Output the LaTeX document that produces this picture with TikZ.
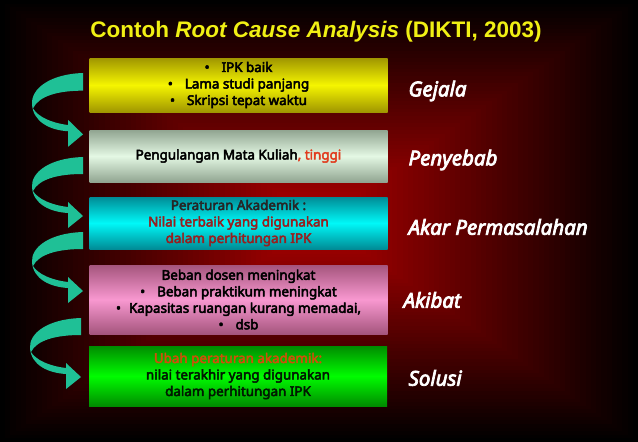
\documentclass[tikz,border=0pt]{standalone}
\usepackage{fontspec}
\setmainfont{Noto Sans}[FakeBold=3.6]
\newfontfamily\titlefont{Liberation Sans}
\definecolor{arrowteal}{RGB}{31,192,150}
\definecolor{titleyellow}{RGB}{240,240,20}
\definecolor{darkred}{RGB}{150,32,32}
\definecolor{tinggired}{RGB}{225,60,30}
\definecolor{ubahorange}{RGB}{205,80,10}
\begin{document}
\begin{tikzpicture}[x=1pt,y=-1pt]
\tikzset{
  box/.style={minimum width=298pt, inner sep=0pt, align=center,
    font=\fontsize{13.4}{16.5}\selectfont, text=black},
  lbl/.style={anchor=west, text=white, font=\itshape\fontsize{20.5}{24}\selectfont},
  curvearrow/.pic={
    \fill[arrowteal] (0,0) .. controls (-33,1) and (-52,15) .. (-51,30)
      .. controls (-50,47) and (-33,55) .. (-15,56) -- (-15,71) -- (0,59) -- (-15,45) -- (-15,50)
      .. controls (-32,48) and (-45,42) .. (-50,34)
      .. controls (-44,22) and (-25,17) .. (0,17) -- cycle;
  }
}
\useasboundingbox (0,0) rectangle (638,442);
% background: rectangular gradient
\fill[black] (0,0) rectangle (638,442);
\foreach \i in {1,...,60}{
  \pgfmathsetmacro{\t}{1-\i/61}
  \pgfmathsetmacro{\p}{68*\i/60}
  \fill[red!\p!black] ({319-319*\t},{221-221*\t}) rectangle ({319+319*\t},{221+221*\t});
}
% title
\node[text=titleyellow, font=\titlefont\bfseries\fontsize{22.5}{26}\selectfont] (title) at (316,32)
  {Contoh \textit{Root Cause Analysis} (DIKTI, 2003)};
% boxes
\node[box, top color={rgb,255:red,160;green,150;blue,0}, bottom color={rgb,255:red,160;green,150;blue,0}, middle color={rgb,255:red,245;green,245;blue,0}, minimum height=54pt] (gejala) at (238.5,85)
  {\textbullet\hspace{12pt}IPK baik\\ \textbullet\hspace{12pt}Lama studi panjang\\ \textbullet\hspace{12pt}Skripsi tepat waktu};
\node[box, top color={rgb,255:red,145;green,165;blue,145}, bottom color={rgb,255:red,145;green,165;blue,145}, middle color={rgb,255:red,228;green,248;blue,228}, minimum height=52pt] (penyebab) at (238.5,156)
  {Pengulangan Mata Kuliah\textcolor{tinggired}{, tinggi}};
\node[box, top color={rgb,255:red,0;green,140;blue,150}, bottom color={rgb,255:red,0;green,140;blue,150}, middle color={rgb,255:red,0;green,248;blue,248}, minimum height=52pt] (akar) at (238.5,223)
  {\textcolor{black!85}{Peraturan Akademik :}\\ \textcolor{darkred}{Nilai terbaik yang digunakan}\\ \textcolor{darkred}{dalam perhitungan IPK}};
\node[box, top color={rgb,255:red,165;green,85;blue,125}, bottom color={rgb,255:red,165;green,85;blue,125}, middle color={rgb,255:red,248;green,152;blue,208}, minimum height=69pt] (akibat) at (238.5,299.5)
  {Beban dosen meningkat\\ \textbullet\hspace{12pt}Beban praktikum meningkat\\ \textbullet\hspace{8pt}Kapasitas ruangan kurang memadai,\\ \textbullet\hspace{12pt}dsb};
\node[box, top color={rgb,255:red,0;green,140;blue,0}, bottom color={rgb,255:red,0;green,140;blue,0}, middle color={rgb,255:red,0;green,252;blue,0}, minimum height=60pt] (solusi) at (238,376)
  {\textcolor{ubahorange}{Ubah peraturan akademik:}\\ \textcolor{black!90!green}{nilai terakhir yang digunakan}\\ \textcolor{black!90!green}{dalam perhitungan IPK}};
% labels
\node[lbl] (l1) at (405,91) {Gejala};
\node[lbl] (l2) at (405,160) {Penyebab};
\node[lbl] (l3) at (405,227) {Akar Permasalahan};
\node[lbl] (l4) at (400,300) {Akibat};
\node[lbl] (l5) at (405,378) {Solusi};
% curved arrows
\pic[yscale=1.04] at (83,73) {curvearrow};
\pic at (83,157) {curvearrow};
\pic at (83,232) {curvearrow};
\pic at (81,318) {curvearrow};
\end{tikzpicture}
\end{document}
